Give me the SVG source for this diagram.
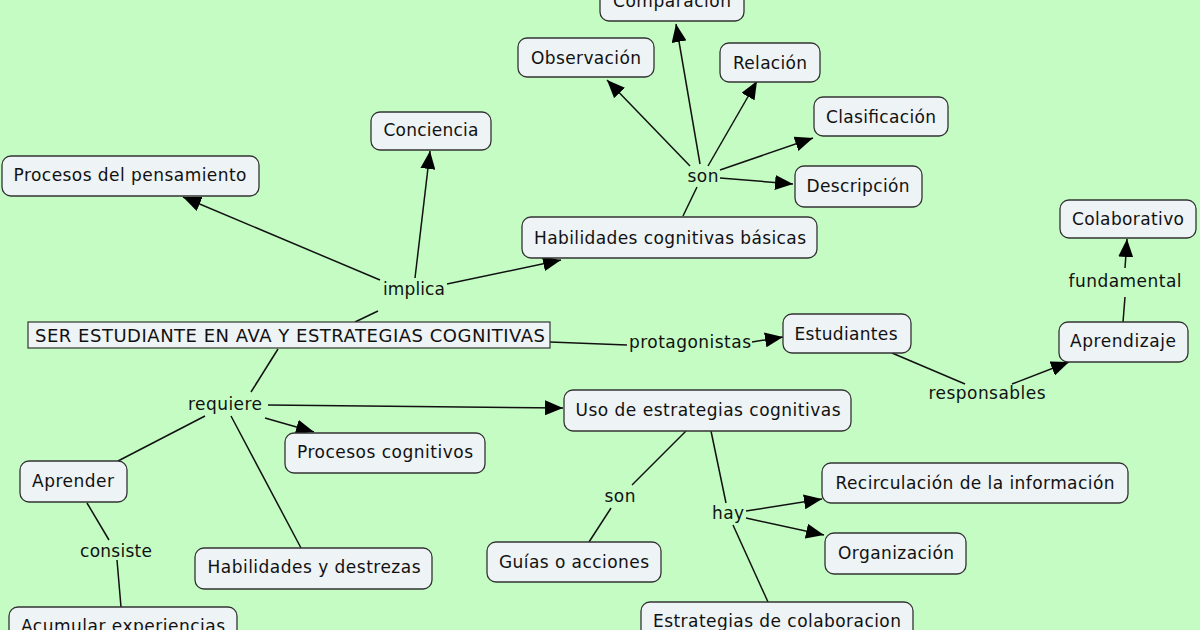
<svg xmlns="http://www.w3.org/2000/svg" width="1200" height="630" viewBox="0 0 1200 630">
<style>
.n{fill:#eef3f5;stroke:#333;stroke-width:1.3}
.t{font-family:"DejaVu Sans",Verdana,sans-serif;font-size:17px;fill:#111;text-anchor:middle;dominant-baseline:central}
.c line{stroke:#111;stroke-width:1.5}
.a{marker-end:url(#ar)}
</style>
<defs>
<marker id="ar" markerUnits="userSpaceOnUse" markerWidth="19" markerHeight="15" refX="18" refY="7.5" orient="auto"><path d="M0,0 L18,7.5 L0,15 z" fill="#000"/></marker>
</defs>
<rect width="1200" height="630" fill="#c4fcc4"/>
<g class="c">
<line x1="683" y1="216" x2="697" y2="187"/>
<line class="a" x1="690" y1="166" x2="607" y2="80"/>
<line class="a" x1="700" y1="164" x2="676" y2="24"/>
<line class="a" x1="708" y1="166" x2="757" y2="81"/>
<line class="a" x1="720" y1="170" x2="813" y2="138"/>
<line class="a" x1="720" y1="178" x2="793" y2="184"/>
<line x1="355" y1="322" x2="378" y2="311"/>
<line class="a" x1="380" y1="280" x2="183" y2="197"/>
<line class="a" x1="415" y1="278" x2="430" y2="151"/>
<line class="a" x1="447" y1="284" x2="561" y2="260"/>
<line x1="550" y1="342" x2="627" y2="345"/>
<line class="a" x1="752" y1="342" x2="783" y2="337"/>
<line x1="892" y1="353" x2="965" y2="384"/>
<line class="a" x1="1012" y1="384" x2="1069" y2="362"/>
<line x1="1123" y1="322" x2="1125" y2="297"/>
<line class="a" x1="1125" y1="268" x2="1127" y2="239"/>
<line x1="278" y1="349" x2="251" y2="392"/>
<line class="a" x1="268" y1="405" x2="563" y2="408"/>
<line class="a" x1="265" y1="418" x2="314" y2="432"/>
<line x1="205" y1="416" x2="118" y2="461"/>
<line x1="231" y1="416" x2="301" y2="548"/>
<line x1="87" y1="503" x2="109" y2="540"/>
<line x1="117" y1="560" x2="121" y2="607"/>
<line x1="686" y1="431" x2="632" y2="485"/>
<line x1="611" y1="508" x2="589" y2="542"/>
<line x1="711" y1="431" x2="726" y2="503"/>
<line class="a" x1="746" y1="511" x2="822" y2="499"/>
<line class="a" x1="746" y1="518" x2="824" y2="535"/>
<line x1="733" y1="525" x2="768" y2="602"/>
</g>
<g id="comparacion"><rect class="n" x="600" y="-18" width="144" height="39" rx="9"/><text class="t" x="672" y="1" textLength="118">Comparación</text></g>
<g id="observacion"><rect class="n" x="518" y="38" width="136" height="39" rx="9"/><text class="t" x="586" y="58" textLength="110">Observación</text></g>
<g id="relacion"><rect class="n" x="720" y="43" width="100" height="39" rx="9"/><text class="t" x="770" y="63" textLength="74">Relación</text></g>
<g id="clasificacion"><rect class="n" x="814" y="97" width="134" height="39" rx="9"/><text class="t" x="881" y="117" textLength="110">Clasificación</text></g>
<g id="descripcion"><rect class="n" x="795" y="166" width="127" height="41" rx="9"/><text class="t" x="858" y="186" textLength="103">Descripción</text></g>
<g id="habilidades-basicas"><rect class="n" x="522" y="217" width="295" height="41" rx="9"/><text class="t" x="670" y="238" textLength="272">Habilidades cognitivas básicas</text></g>
<g id="son1"><text class="t" x="703" y="176" textLength="31">son</text></g>
<g id="conciencia"><rect class="n" x="371" y="112" width="120" height="38" rx="9"/><text class="t" x="431" y="130" textLength="95">Conciencia</text></g>
<g id="procesos-pensamiento"><rect class="n" x="2" y="156" width="257" height="40" rx="9"/><text class="t" x="130" y="175" textLength="233">Procesos del pensamiento</text></g>
<g id="implica"><text class="t" x="414" y="289" textLength="62">implica</text></g>
<g id="ser"><rect x="28" y="322" width="522" height="26" fill="#eef3f5" stroke="#333" stroke-width="1.2"/><text class="t" x="290" y="335" textLength="510" style="font-size:18px">SER ESTUDIANTE EN AVA Y ESTRATEGIAS COGNITIVAS</text></g>
<g id="protagonistas"><text class="t" x="690" y="342" textLength="122">protagonistas</text></g>
<g id="estudiantes"><rect class="n" x="783" y="314" width="128" height="39" rx="9"/><text class="t" x="846" y="334" textLength="103">Estudiantes</text></g>
<g id="colaborativo"><rect class="n" x="1060" y="200" width="136" height="38" rx="9"/><text class="t" x="1128" y="219" textLength="112">Colaborativo</text></g>
<g id="fundamental"><text class="t" x="1125" y="281" textLength="113">fundamental</text></g>
<g id="aprendizaje"><rect class="n" x="1059" y="322" width="129" height="40" rx="9"/><text class="t" x="1123" y="341" textLength="106">Aprendizaje</text></g>
<g id="responsables"><text class="t" x="987" y="393" textLength="117">responsables</text></g>
<g id="requiere"><text class="t" x="225" y="404" textLength="74">requiere</text></g>
<g id="uso"><rect class="n" x="564" y="390" width="287" height="41" rx="9"/><text class="t" x="708" y="410" textLength="265">Uso de estrategias cognitivas</text></g>
<g id="procesos-cognitivos"><rect class="n" x="285" y="433" width="200" height="40" rx="9"/><text class="t" x="385" y="452" textLength="176">Procesos cognitivos</text></g>
<g id="aprender"><rect class="n" x="20" y="461" width="107" height="41" rx="9"/><text class="t" x="73" y="481" textLength="82">Aprender</text></g>
<g id="consiste"><text class="t" x="116" y="551" textLength="72">consiste</text></g>
<g id="habilidades-destrezas"><rect class="n" x="195" y="548" width="237" height="41" rx="9"/><text class="t" x="314" y="567" textLength="213">Habilidades y destrezas</text></g>
<g id="acumular"><rect class="n" x="9" y="607" width="228" height="43" rx="9"/><text class="t" x="123" y="626" textLength="204">Acumular experiencias</text></g>
<g id="son2"><text class="t" x="620" y="496" textLength="31">son</text></g>
<g id="hay"><text class="t" x="728" y="513" textLength="32">hay</text></g>
<g id="recirculacion"><rect class="n" x="822" y="463" width="306" height="40" rx="9"/><text class="t" x="975" y="483" textLength="279">Recirculación de la información</text></g>
<g id="organizacion"><rect class="n" x="825" y="533" width="141" height="41" rx="9"/><text class="t" x="896" y="553" textLength="116">Organización</text></g>
<g id="guias"><rect class="n" x="487" y="542" width="174" height="40" rx="9"/><text class="t" x="574" y="562" textLength="150">Guías o acciones</text></g>
<g id="estrategias-colaboracion"><rect class="n" x="641" y="602" width="272" height="43" rx="9"/><text class="t" x="777" y="621" textLength="248">Estrategias de colaboracion</text></g>
</svg>
